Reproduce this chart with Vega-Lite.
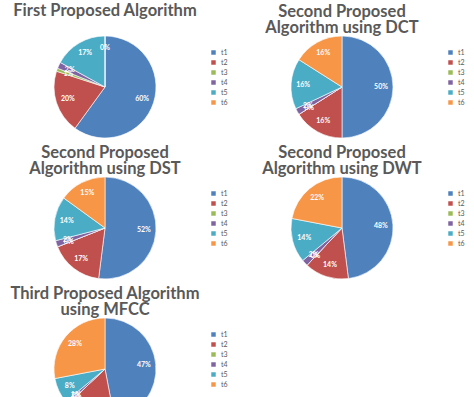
{
  "$schema": "https://vega.github.io/schema/vega-lite/v6.json",
  "background": "white",
  "padding": {"left": 5, "top": 3, "right": 0, "bottom": 0},
  "datasets": {
    "pies": [
      {"chart": "A", "series": "t1", "value": 0.60},
      {"chart": "A", "series": "t2", "value": 0.20},
      {"chart": "A", "series": "t3", "value": 0.01},
      {"chart": "A", "series": "t4", "value": 0.02},
      {"chart": "A", "series": "t5", "value": 0.17},
      {"chart": "A", "series": "t6", "value": 0.00},
      {"chart": "B", "series": "t1", "value": 0.50},
      {"chart": "B", "series": "t2", "value": 0.16},
      {"chart": "B", "series": "t3", "value": 0.00},
      {"chart": "B", "series": "t4", "value": 0.02},
      {"chart": "B", "series": "t5", "value": 0.16},
      {"chart": "B", "series": "t6", "value": 0.16},
      {"chart": "C", "series": "t1", "value": 0.52},
      {"chart": "C", "series": "t2", "value": 0.17},
      {"chart": "C", "series": "t3", "value": 0.00},
      {"chart": "C", "series": "t4", "value": 0.02},
      {"chart": "C", "series": "t5", "value": 0.14},
      {"chart": "C", "series": "t6", "value": 0.15},
      {"chart": "D", "series": "t1", "value": 0.48},
      {"chart": "D", "series": "t2", "value": 0.14},
      {"chart": "D", "series": "t3", "value": 0.00},
      {"chart": "D", "series": "t4", "value": 0.02},
      {"chart": "D", "series": "t5", "value": 0.14},
      {"chart": "D", "series": "t6", "value": 0.22},
      {"chart": "E", "series": "t1", "value": 0.47},
      {"chart": "E", "series": "t2", "value": 0.16},
      {"chart": "E", "series": "t3", "value": 0.00},
      {"chart": "E", "series": "t4", "value": 0.01},
      {"chart": "E", "series": "t5", "value": 0.08},
      {"chart": "E", "series": "t6", "value": 0.28}
    ]
  },
  "data": {"name": "pies"},
  "columns": 2,
  "spacing": {"column": 14, "row": 5},
  "resolve": {"scale": {"color": "independent", "theta": "independent"}},
  "concat": [
    {
      "title": {"text": "First Proposed Algorithm", "offset": 15},
      "width": 200, "height": 100,
      "transform": [{"filter": "datum.chart == 'A'"}],
      "layer": [
        {"mark": {"type": "arc", "outerRadius": 51, "stroke": "white", "strokeWidth": 0.6},
         "encoding": {
           "theta": {"field": "value", "type": "quantitative", "stack": true},
           "order": {"field": "series"},
           "color": {"field": "series", "type": "nominal", "scale": {"domain": ["t1","t2","t3","t4","t5","t6"], "range": ["#4F81BD","#C0504D","#9BBB59","#8064A2","#4BACC6","#F79646"]}, "legend": {"orient": "none", "legendX": 205, "legendY": 12}}
         }},
        {"mark": {"type": "text", "radius": 39, "color": "white", "fontSize": 7, "fontWeight": "bold", "font": "Lato"},
         "encoding": {
           "theta": {"field": "value", "type": "quantitative", "stack": true},
           "order": {"field": "series"},
           "text": {"field": "value", "type": "quantitative", "format": ".0%"}
         }}
      ]
    },
    {
      "title": {"text": ["Second Proposed", "Algorithm using DCT"]},
      "width": 200, "height": 100,
      "transform": [{"filter": "datum.chart == 'B'"}],
      "layer": [
        {"mark": {"type": "arc", "outerRadius": 51, "stroke": "white", "strokeWidth": 0.6},
         "encoding": {
           "theta": {"field": "value", "type": "quantitative", "stack": true},
           "order": {"field": "series"},
           "color": {"field": "series", "type": "nominal", "scale": {"domain": ["t1","t2","t3","t4","t5","t6"], "range": ["#4F81BD","#C0504D","#9BBB59","#8064A2","#4BACC6","#F79646"]}, "legend": {"orient": "none", "legendX": 205, "legendY": 12}}
         }},
        {"mark": {"type": "text", "radius": 39, "color": "white", "fontSize": 7, "fontWeight": "bold", "font": "Lato"},
         "encoding": {
           "theta": {"field": "value", "type": "quantitative", "stack": true},
           "order": {"field": "series"},
           "text": {"field": "value", "type": "quantitative", "format": ".0%"}
         }}
      ]
    },
    {
      "title": {"text": ["Second Proposed", "Algorithm using DST"]},
      "width": 200, "height": 100,
      "transform": [{"filter": "datum.chart == 'C'"}],
      "layer": [
        {"mark": {"type": "arc", "outerRadius": 51, "stroke": "white", "strokeWidth": 0.6},
         "encoding": {
           "theta": {"field": "value", "type": "quantitative", "stack": true},
           "order": {"field": "series"},
           "color": {"field": "series", "type": "nominal", "scale": {"domain": ["t1","t2","t3","t4","t5","t6"], "range": ["#4F81BD","#C0504D","#9BBB59","#8064A2","#4BACC6","#F79646"]}, "legend": {"orient": "none", "legendX": 205, "legendY": 12}}
         }},
        {"mark": {"type": "text", "radius": 39, "color": "white", "fontSize": 7, "fontWeight": "bold", "font": "Lato"},
         "encoding": {
           "theta": {"field": "value", "type": "quantitative", "stack": true},
           "order": {"field": "series"},
           "text": {"field": "value", "type": "quantitative", "format": ".0%"}
         }}
      ]
    },
    {
      "title": {"text": ["Second Proposed", "Algorithm using DWT"]},
      "width": 200, "height": 100,
      "transform": [{"filter": "datum.chart == 'D'"}],
      "layer": [
        {"mark": {"type": "arc", "outerRadius": 51, "stroke": "white", "strokeWidth": 0.6},
         "encoding": {
           "theta": {"field": "value", "type": "quantitative", "stack": true},
           "order": {"field": "series"},
           "color": {"field": "series", "type": "nominal", "scale": {"domain": ["t1","t2","t3","t4","t5","t6"], "range": ["#4F81BD","#C0504D","#9BBB59","#8064A2","#4BACC6","#F79646"]}, "legend": {"orient": "none", "legendX": 205, "legendY": 12}}
         }},
        {"mark": {"type": "text", "radius": 39, "color": "white", "fontSize": 7, "fontWeight": "bold", "font": "Lato"},
         "encoding": {
           "theta": {"field": "value", "type": "quantitative", "stack": true},
           "order": {"field": "series"},
           "text": {"field": "value", "type": "quantitative", "format": ".0%"}
         }}
      ]
    },
    {
      "title": {"text": ["Third Proposed Algorithm", "using MFCC"]},
      "width": 200, "height": 100,
      "transform": [{"filter": "datum.chart == 'E'"}],
      "layer": [
        {"mark": {"type": "arc", "outerRadius": 51, "stroke": "white", "strokeWidth": 0.6},
         "encoding": {
           "theta": {"field": "value", "type": "quantitative", "stack": true},
           "order": {"field": "series"},
           "color": {"field": "series", "type": "nominal", "scale": {"domain": ["t1","t2","t3","t4","t5","t6"], "range": ["#4F81BD","#C0504D","#9BBB59","#8064A2","#4BACC6","#F79646"]}, "legend": {"orient": "none", "legendX": 205, "legendY": 12}}
         }},
        {"mark": {"type": "text", "radius": 39, "color": "white", "fontSize": 7, "fontWeight": "bold", "font": "Lato"},
         "encoding": {
           "theta": {"field": "value", "type": "quantitative", "stack": true},
           "order": {"field": "series"},
           "text": {"field": "value", "type": "quantitative", "format": ".0%"}
         }}
      ]
    }
  ],
  "config": {
    "view": {"stroke": null},
    "title": {"font": "Lato", "fontSize": 16.5, "fontWeight": "bold", "color": "#595959", "lineHeight": 16, "anchor": "middle", "offset": -2},
    "legend": {"title": null, "symbolType": "square", "symbolSize": 20, "labelFontSize": 7, "labelColor": "#595959", "labelFont": "Lato", "rowPadding": 2, "padding": 0, "symbolStrokeWidth": 0}
  }
}
